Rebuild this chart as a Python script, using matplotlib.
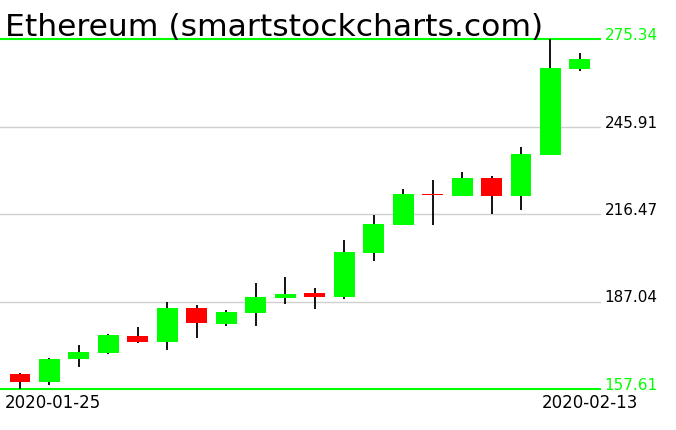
import matplotlib
matplotlib.use("Agg")
import matplotlib.pyplot as plt
import matplotlib.transforms as mtransforms
import numpy as np

# daily OHLC, 2020-01-25 .. 2020-02-13
dates = ["2020-01-25", "2020-01-26", "2020-01-27", "2020-01-28", "2020-01-29",
         "2020-01-30", "2020-01-31", "2020-02-01", "2020-02-02", "2020-02-03",
         "2020-02-04", "2020-02-05", "2020-02-06", "2020-02-07", "2020-02-08",
         "2020-02-09", "2020-02-10", "2020-02-11", "2020-02-12", "2020-02-13"]
opens = [162.66, 159.97, 167.70, 169.72, 175.44, 173.42, 184.86, 179.47, 183.17, 188.22,
         189.90, 188.56, 203.36, 212.77, 223.30, 222.53, 228.58, 222.53, 236.32, 265.25]
highs = [162.90, 168.04, 172.41, 176.11, 178.47, 186.87, 185.87, 184.18, 193.27, 195.28,
         191.58, 207.73, 216.14, 224.88, 227.91, 230.60, 229.26, 239.01, 275.34, 270.63]
lows = [157.61, 158.96, 165.01, 169.50, 173.08, 170.73, 174.77, 178.80, 178.80, 186.20,
        184.52, 187.88, 200.67, 212.77, 212.77, 222.53, 216.48, 217.82, 236.32, 264.58]
closes = [159.97, 167.70, 170.06, 175.77, 173.42, 184.86, 179.81, 183.51, 188.56, 189.57,
          188.56, 203.69, 213.11, 223.20, 223.00, 228.58, 222.53, 236.66, 265.59, 268.61]

title = "Ethereum (smartstockcharts.com)"

lo = min(lows)
hi = max(highs)
levels = np.linspace(lo, hi, 5)

fig = plt.figure(figsize=(6.76, 4.31), dpi=100)
W, H = 676, 431
ax = fig.add_axes([0, (H - 390) / H, 600 / W, 350 / H])
ax.set_axis_off()

x = np.arange(len(dates))
step = 29.47
ax.set_xlim(-20 / step, (600 - 20) / step)
ax.set_ylim(lo, hi)

# grid / bounds
for i, lv in enumerate(levels):
    edge = i == 0 or i == len(levels) - 1
    ax.axhline(lv, color="#00ff00" if edge else "#d0d0d0", lw=1.5 if edge else 1.0,
               zorder=1, clip_on=False)

o = np.array(opens); c = np.array(closes)
colors = np.where(c > o, "#00ff00", "#ff0000")
ax.vlines(x, lows, highs, color="black", lw=1.3, zorder=2)
bottoms = np.minimum(o, c)
heights = np.maximum(np.abs(c - o), 0.35)
ax.bar(x, heights, bottom=bottoms, width=0.71, color=colors, zorder=3)

# price labels on the right
trans = mtransforms.blended_transform_factory(ax.transAxes, ax.transData)
for i, lv in enumerate(levels):
    edge = i == 0 or i == len(levels) - 1
    ax.text(1.008, lv, "%.2f" % lv, transform=trans, ha="left", va="baseline",
            fontsize=11, color="#00ff00" if edge else "black", clip_on=False)

# date labels
ax.text(5 / 600, -0.012, dates[0], transform=ax.transAxes, ha="left", va="top",
        fontsize=12, clip_on=False)
ax.text(542 / 600, -0.012, dates[-1], transform=ax.transAxes, ha="left", va="top",
        fontsize=12, clip_on=False)

fig.text(5 / W, 1 - 36 / H, title, ha="left", va="baseline", fontsize=22.6,
         color="black")

fig.savefig("out.png", dpi=100, facecolor="white")
